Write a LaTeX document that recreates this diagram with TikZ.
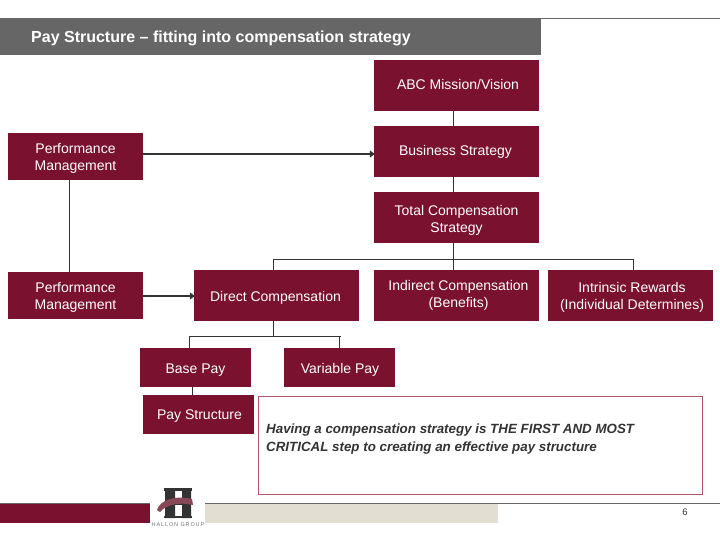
\documentclass[tikz,border=0pt]{standalone}
\usepackage{fontspec}
\setmainfont{Liberation Sans}
\usetikzlibrary{arrows.meta}
\definecolor{wine}{HTML}{7A112E}
\definecolor{hdr}{HTML}{666666}
\definecolor{beige}{HTML}{E2DFD2}
\definecolor{rose}{HTML}{B4536A}
\definecolor{ink}{HTML}{333333}
\tikzset{
  x=1pt,y=-1pt,
  boxbase/.style={fill=wine,draw=none,inner sep=0pt},
  boxw/.style={boxbase,minimum width=165pt,minimum height=51pt},
  boxpm/.style={boxbase,minimum width=135pt,minimum height=47pt},
  boxs/.style={boxbase,minimum width=111pt,minimum height=39pt},
  boxtxt/.style={text=white,align=center,inner sep=0pt,font=\fontsize{14}{17}\selectfont},
  link/.style={draw=ink,line width=0.8pt},
  feed/.style={draw=ink,line width=2pt,-{Triangle[length=5pt,width=7pt]},shorten >=-1pt},
}
\begin{document}
\begin{tikzpicture}
\useasboundingbox (0,0) rectangle (720,540);
\fill[white] (0,0) rectangle (720,540);
% header
\coordinate (topL) at (541,18);
\coordinate (topR) at (720,18);
\draw[draw=hdr,line width=0.8pt] (topL) -- (topR);
\node[fill=hdr,minimum width=541pt,minimum height=37pt,inner sep=0pt,anchor=north west] (header) at (0,18) {};
\node[text=white,anchor=west,inner sep=0pt,font=\bfseries\fontsize{16}{19}\selectfont] (title) at (31,38) {Pay Structure -- fitting into compensation strategy};
% boxes
\node[boxw] (abc) at (456.5,85.5) {};
\node[boxtxt] (abct) at ([shift={(1.5,-1.5)}]abc.center) {ABC Mission/Vision};
\node[boxw] (bus) at (456.5,151.5) {};
\node[boxtxt] (bust) at ([shift={(-1,0)}]bus.center) {Business Strategy};
\node[boxw] (tot) at (456.5,217.5) {};
\node[boxtxt] (tott) at ([shift={(0,3)}]tot.center) {Total Compensation\\Strategy};
\node[boxpm] (pm1) at (75.5,156.5) {};
\node[boxtxt] (pm1t) at ([shift={(0,2)}]pm1.center) {Performance\\Management};
\node[boxpm] (pm2) at (75.5,295.5) {};
\node[boxtxt] (pm2t) at ([shift={(0,2)}]pm2.center) {Performance\\Management};
\node[boxw] (dir) at (276.5,295.5) {};
\node[boxtxt] (dirt) at ([shift={(-1,2.5)}]dir.center) {Direct Compensation};
\node[boxw] (ind) at (456.5,295.5) {};
\node[boxtxt] (indt) at ([shift={(2,0)}]ind.center) {Indirect Compensation\\(Benefits)};
\node[boxw] (int) at (630.5,295.5) {};
\node[boxtxt] (intt) at ([shift={(1.5,2)}]int.center) {Intrinsic Rewards\\(Individual Determines)};
\node[boxs] (base) at (195.5,367.5) {};
\node[boxtxt] (baset) at ([shift={(0,2.5)}]base.center) {Base Pay};
\node[boxs] (var) at (339.5,367.5) {};
\node[boxtxt] (vart) at ([shift={(0.5,2.5)}]var.center) {Variable Pay};
\node[boxs] (pay) at (198.5,414.5) {};
\node[boxtxt] (payt) at ([shift={(1,1.5)}]pay.center) {Pay Structure};
% connectors
\coordinate (bar1) at (453.5,259);
\coordinate (bar2) at (273.5,336);
\draw[link] (abc.south -| 453.5,0) -- (bus.north -| 453.5,0);
\draw[link] (bus.south -| 453.5,0) -- (tot.north -| 453.5,0);
\draw[link] (tot.south -| bar1) -- (ind.north -| bar1);
\draw[link] (dir.north -| 273.5,0) -- (bar1 -| 273.5,0) -- (bar1 -| 633.5,0) -- (int.north -| 633.5,0);
\draw[link] (dir.south -| bar2) -- (bar2);
\draw[link] (base.north -| 189.5,0) -- (bar2 -| 189.5,0) -- (bar2 -| 341,0);
\draw[link] (var.north -| 339.5,0) -- (bar2 -| 339.5,0);
\draw[link] (base.south -| 192,0) -- (pay.north -| 192,0);
\draw[link] (pm1.south -| 69.5,0) -- (pm2.north -| 69.5,0);
\draw[feed] (pm1.east |- 0,154) -- (bus.west |- 0,154);
\draw[feed] (pm2.east |- 0,296) -- (dir.west |- 0,296);
% callout
\node[draw=rose,fill=white,line width=1pt,minimum width=444.5pt,minimum height=98.5pt,inner sep=0pt] (note) at (480.5,445.5) {};
\node[anchor=north west,align=left,inner sep=0pt,text=ink,font=\bfseries\itshape\fontsize{13.35}{18}\selectfont] (notetext) at (266,423.5) {Having a compensation strategy is THE FIRST AND MOST\\CRITICAL step to creating an effective pay structure};
% footer
\coordinate (footL) at (0,503);
\coordinate (footR) at (720,503);
\node[fill=wine,minimum width=150pt,minimum height=20pt,inner sep=0pt,anchor=north west] (fbar) at (0,503) {};
\node[fill=beige,minimum width=293pt,minimum height=20pt,inner sep=0pt,anchor=north west] (fbeige) at (205,503) {};
\draw[draw=hdr,line width=0.8pt] (footL) -- (footR);
\node[fill=white,minimum width=55pt,minimum height=42pt,inner sep=0pt,anchor=north west] (logobg) at (150,486) {};
\fill[ink] (164,488) rectangle (192,490.5);
\fill[ink] (165,488) rectangle (175,518) (182,488) rectangle (191,518);
\fill[ink] (164,515.5) rectangle (192,518);
\fill[ink] (175,501) rectangle (182,505);
\fill[rose!65!ink] (157,510) .. controls (160,500) and (175,495) .. (192,499) -- (193,505) .. controls (180,502) and (167,504) .. (160,512) -- cycle;
\node[text=ink!70,inner sep=0pt,font=\addfontfeature{LetterSpace=16}\fontsize{5.5}{6}\selectfont] (logotext) at (178,524.5) {HALLON GROUP};
\node[text=ink,inner sep=0pt,font=\fontsize{9.5}{11}\selectfont] (pageno) at (685,512.5) {6};
\end{tikzpicture}
\end{document}
